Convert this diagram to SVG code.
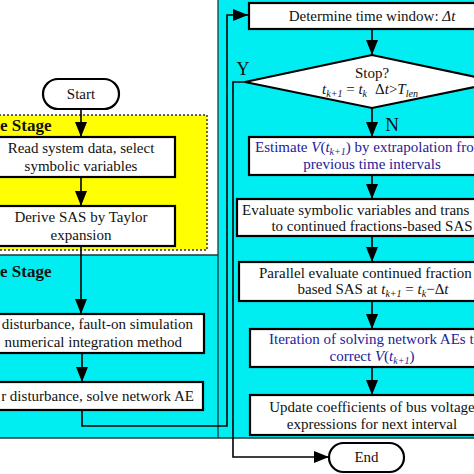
<svg xmlns="http://www.w3.org/2000/svg" width="474" height="474" viewBox="0 0 474 474">
<style>
.box{fill:#fff;stroke:#000;stroke-width:2.2}
.t{font-family:"Liberation Serif","DejaVu Serif",serif;font-size:15px;fill:#111}
.b{fill:#22229a}
.c{text-anchor:middle}
.e{text-anchor:end}
.i{font-style:italic}
.s{font-size:10px}
.ln{fill:none;stroke:#000;stroke-width:1.6}
.stage{font-family:"Liberation Serif","DejaVu Serif",serif;font-size:17px;font-weight:bold;fill:#111}
.edge{fill:none;stroke:#1d3b3b;stroke-width:1.3}
</style>
<defs>
<marker id="ah" markerUnits="userSpaceOnUse" viewBox="0 0 15 12" refX="15" refY="6" markerWidth="15" markerHeight="12" orient="auto">
<path d="M0,0 L15,6 L0,12 Z" fill="#000"/>
</marker>
</defs>
<g id="panels">
<path d="M0,255 H218 V0 H474 V438 H0 Z" fill="#00eef2"/>
<path class="edge" d="M218,0 V438 M0,255 H218 M0,438 H474"/>
<rect x="-5" y="115" width="212" height="135" fill="#ffff00" stroke="#333" stroke-width="1.5" stroke-dasharray="2,2"/>
<text class="stage" font-family="Liberation Serif, serif" x="0" y="131">e Stage</text>
<text class="stage" font-family="Liberation Serif, serif" x="0" y="277">e Stage</text>
</g>
<g id="connectors">
<line class="ln" x1="81" y1="109" x2="81" y2="137" marker-end="url(#ah)"/>
<line class="ln" x1="81" y1="177" x2="81" y2="206" marker-end="url(#ah)"/>
<line class="ln" x1="81" y1="246" x2="81" y2="314" marker-end="url(#ah)"/>
<line class="ln" x1="82" y1="353" x2="82" y2="382" marker-end="url(#ah)"/>
<path class="ln" d="M82,410 V426 H227 V15 H248" marker-end="url(#ah)"/>
<line class="ln" x1="372" y1="29" x2="372" y2="55" marker-end="url(#ah)"/>
<line class="ln" x1="372" y1="108" x2="372" y2="137" marker-end="url(#ah)"/>
<line class="ln" x1="372" y1="175" x2="372" y2="199" marker-end="url(#ah)"/>
<line class="ln" x1="372" y1="236" x2="372" y2="262" marker-end="url(#ah)"/>
<line class="ln" x1="372" y1="301" x2="372" y2="329" marker-end="url(#ah)"/>
<line class="ln" x1="372" y1="367" x2="372" y2="395" marker-end="url(#ah)"/>
<path class="ln" d="M245,82 H233 V457 H329" marker-end="url(#ah)"/>
<text class="t c" font-family="Liberation Serif, serif" x="243" y="75" style="font-size:18px">Y</text>
<text class="t c" font-family="Liberation Serif, serif" x="392" y="131" style="font-size:19px">N</text>
</g>
<g id="start">
<rect class="box" x="43" y="79" width="76" height="30" rx="15"/>
<text class="t c" font-family="Liberation Serif, serif" x="81" y="99">Start</text>
</g>
<g id="read">
<rect class="box" x="-13" y="137" width="188" height="40"/>
<text class="t c" font-family="Liberation Serif, serif" x="81" y="153">Read system data, select</text>
<text class="t c" font-family="Liberation Serif, serif" x="81" y="171">symbolic variables</text>
</g>
<g id="derive">
<rect class="box" x="-13" y="206" width="188" height="40"/>
<text class="t c" font-family="Liberation Serif, serif" x="81" y="222">Derive SAS by Taylor</text>
<text class="t c" font-family="Liberation Serif, serif" x="81" y="240">expansion</text>
</g>
<g id="during">
<rect class="box" x="-40" y="314" width="244" height="39"/>
<text class="t e" font-family="Liberation Serif, serif" x="193" y="329">disturbance, fault-on simulation</text>
<text class="t e" font-family="Liberation Serif, serif" x="182" y="347">numerical integration method</text>
</g>
<g id="after">
<rect class="box" x="-40" y="382" width="243" height="28"/>
<text class="t e" font-family="Liberation Serif, serif" x="194" y="401">r disturbance, solve network AE</text>
</g>
<g id="determine">
<rect class="box" x="249" y="3" width="250" height="26"/>
<text class="t c" font-family="Liberation Serif, serif" x="372" y="21">Determine time window: <tspan class="i">Δt</tspan></text>
</g>
<g id="stop">
<polygon class="box" points="372,55 245,82 372,108 499,82"/>
<text class="t c" font-family="Liberation Serif, serif" x="372" y="78">Stop?</text>
<text class="t c" font-family="Liberation Serif, serif" x="370" y="94"><tspan class="i">t</tspan><tspan class="s i" dy="3">k+1</tspan><tspan dy="-3"> = </tspan><tspan class="i">t</tspan><tspan class="s i" dy="3">k</tspan><tspan dy="-3" dx="8">Δ</tspan><tspan class="i">t</tspan>&gt;<tspan class="i">T</tspan><tspan class="s i" dy="3">len</tspan></text>
</g>
<g id="estimate">
<rect class="box" x="249" y="137" width="246" height="38"/>
<text class="t b" font-family="Liberation Serif, serif" x="255" y="152">Estimate <tspan class="i">V</tspan>(<tspan class="i">t</tspan><tspan class="s i" dy="3">k+1</tspan><tspan dy="-3">) by extrapolation fro</tspan></text>
<text class="t b c" font-family="Liberation Serif, serif" x="372" y="169">previous time intervals</text>
</g>
<g id="evaluate">
<rect class="box" x="237" y="199" width="270" height="37"/>
<text class="t" font-family="Liberation Serif, serif" x="242" y="215">Evaluate symbolic variables and trans</text>
<text class="t c" font-family="Liberation Serif, serif" x="372" y="231">to continued fractions-based SAS</text>
</g>
<g id="parallel">
<rect class="box" x="239" y="262" width="266" height="39"/>
<text class="t" font-family="Liberation Serif, serif" x="259" y="278">Parallel evaluate continued fraction</text>
<text class="t c" font-family="Liberation Serif, serif" x="373" y="294">based SAS at <tspan class="i">t</tspan><tspan class="s i" dy="3">k+1</tspan><tspan dy="-3"> = </tspan><tspan class="i">t</tspan><tspan class="s i" dy="3">k</tspan><tspan dy="-3">−Δ</tspan><tspan class="i">t</tspan></text>
</g>
<g id="iteration">
<rect class="box" x="250" y="329" width="245" height="38"/>
<text class="t b" font-family="Liberation Serif, serif" x="269" y="344">Iteration of solving network AEs t</text>
<text class="t b c" font-family="Liberation Serif, serif" x="372" y="361">correct <tspan class="i">V</tspan>(<tspan class="i">t</tspan><tspan class="s i" dy="3">k+1</tspan><tspan dy="-3">)</tspan></text>
</g>
<g id="update">
<rect class="box" x="250" y="395" width="245" height="40"/>
<text class="t c" font-family="Liberation Serif, serif" x="372" y="412">Update coefficients of bus voltage</text>
<text class="t c" font-family="Liberation Serif, serif" x="372" y="429">expressions for next interval</text>
</g>
<g id="end">
<rect class="box" x="329" y="443" width="75" height="29" rx="14.5"/>
<text class="t c" font-family="Liberation Serif, serif" x="366.5" y="462">End</text>
</g>
</svg>
